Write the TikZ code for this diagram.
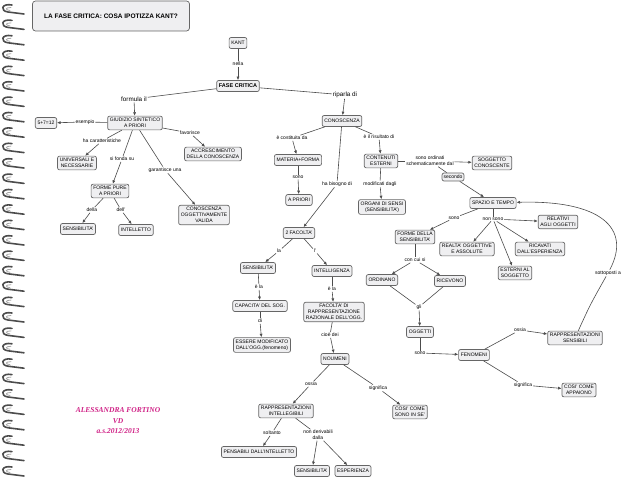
\documentclass[tikz,border=0pt]{standalone}
\usepackage{fontspec}
\setmainfont{Liberation Sans}
\newfontfamily\serifit{Liberation Serif}
\usetikzlibrary{arrows.meta}
\begin{document}
\begin{tikzpicture}[x=1pt,y=-1pt,
 box/.style={draw=black!60,line width=0.7pt,rounded corners=2pt,fill=blue!6!gray!12,align=center,font=\fontsize{5}{5.8}\selectfont,inner sep=2.2pt,minimum height=11pt},
 lab/.style={font=\fontsize{5}{5.8}\selectfont,inner sep=0.8pt,align=center,fill=white},
 big/.style={font=\fontsize{6.3}{7}\selectfont,inner sep=0.8pt,fill=white},
 ln/.style={draw=black!70,line width=0.6pt},
 ar/.style={draw=black!70,line width=0.6pt,-{Latex[length=3.5pt,width=3pt]}}]
\useasboundingbox (0,0) rectangle (638,478);
\fill[white] (0,0) rectangle (638,478);
% spiral binding
\foreach \k in {0,...,30}{
 \pgfmathsetmacro\yy{5+\k*15.4}
 \draw[black!70,line width=1.6pt,line cap=round] (12,\yy) .. controls (1,\yy-2) and (0,\yy+6) .. (8,\yy+7) -- (24,\yy+9);
 \draw[black!35,line width=0.8pt,line cap=round] (11,\yy+2.5) .. controls (5,\yy+2.5) and (5,\yy+5) .. (10,\yy+5.5);
}
% title
\node[box,font=\bfseries\fontsize{6.5}{7}\selectfont,minimum width=157pt,minimum height=30pt,rounded corners=3pt] (title) at (111,16) {LA FASE CRITICA: COSA IPOTIZZA KANT?};
\node[box] (kant) at (238,43) {KANT};
\node[lab] (lnella) at (238,64) {nella};
\node[box,font=\bfseries\fontsize{5.5}{6}\selectfont] (fase) at (238,86) {FASE CRITICA};
\node[big] (lformula) at (134,99) {formula il};
\node[big] (lriparla) at (345,95) {riparla di};
\node[box] (giud) at (135,123) {GIUDIZIO SINTETICO\\A PRIORI};
\node[box] (ese) at (46,123) {5+7=12};
\node[lab] (lesempio) at (85,122) {esempio};
\node[lab] (lcar) at (102,141) {ha caratteristiche};
\node[box] (univ) at (77,163) {UNIVERSALI E\\NECESSARIE};
\node[lab] (lfonda) at (122,159) {si fonda su};
\node[lab] (lfav) at (190,133) {favorisce};
\node[box] (accr) at (213,154) {ACCRESCIMENTO\\DELLA CONOSCENZA};
\node[lab] (lgar) at (165,170) {garantisce una};
\node[box] (forme) at (110,191) {FORME PURE\\A PRIORI};
\node[lab] (ldella) at (92,210) {della};
\node[lab] (ldell) at (121,210) {dell'};
\node[box] (sens1) at (78,229) {SENSIBILITA'};
\node[box] (intel1) at (136,230) {INTELLETTO};
\node[box] (cov) at (204,215) {CONOSCENZA\\OGGETTIVAMENTE\\VALIDA};
% right
\node[box] (con) at (342,121) {CONOSCENZA};
\node[lab] (lcost) at (292,138) {è costituita da};
\node[box] (mat) at (298,160) {MATERIA+FORMA};
\node[lab] (lsono1) at (298,177) {sono};
\node[box] (apr) at (299,200) {A PRIORI};
\node[lab] (lbis) at (337,184) {ha bisogno di};
\node[lab] (lris) at (379,137) {è il risultato di};
\node[box] (cont) at (381,161) {CONTENUTI\\ESTERNI};
\node[lab] (lmod) at (380,184) {modificati dagli};
\node[box] (org) at (382,207) {ORGANI DI SENSI\\(SENSIBILITA')};
\node[lab] (lord) at (430,161) {sono ordinati\\schematicamente dal};
\node[box] (sogg) at (492,163) {SOGGETTO\\CONOSCENTE};
\node[box,minimum height=8pt,inner sep=1.5pt] (lsec) at (453,177) {secondo};
\node[box] (spt) at (493,203) {SPAZIO E TEMPO};
\node[lab] (lsono2) at (454,218) {sono};
\node[lab] (lnon) at (493,219) {non sono};
\node[box] (rel) at (558,222) {RELATIVI\\AGLI OGGETTI};
\node[box] (fds) at (415,237) {FORME DELLA\\SENSIBILITA'};
\node[box] (real) at (467,249) {REALTA' OGGETTIVE\\E ASSOLUTE};
\node[box] (ric) at (540,249) {RICAVATI\\DALL'ESPERIENZA};
\node[box] (est) at (515,273) {ESTERNI AL\\SOGGETTO};
\node[lab] (lcon) at (415,260) {con cui si};
\node[box] (ordi) at (382,280) {ORDINANO};
\node[box] (rice) at (450,281) {RICEVONO};
\node[lab] (lsott) at (608,273) {sottoposti a};
\node[lab] (lgli) at (419,307) {gli};
\node[box] (ogg) at (420,332) {OGGETTI};
\node[lab] (lsono3) at (420,353) {sono};
\node[box] (fen) at (474,355) {FENOMENI};
\node[lab] (lossia2) at (520,330) {ossia};
\node[box] (rsens) at (575,338) {RAPPRESENTAZIONI\\SENSIBILI};
\node[lab] (lsig2) at (523,385) {significa};
\node[box] (app) at (579,390) {COSI' COME\\APPAIONO};
% middle
\node[box] (fac2) at (299,233) {2 FACOLTA'};
\node[lab] (lla) at (279,251) {la};
\node[lab] (ll) at (315,251) {l'};
\node[box] (sens2) at (258,268) {SENSIBILITA'};
\node[box] (intg) at (332,271) {INTELLIGENZA};
\node[lab] (lela1) at (259,287) {è la};
\node[lab] (lela2) at (332,289) {è la};
\node[box] (cap) at (260,306) {CAPACITA' DEL SOG.};
\node[box] (facr) at (334,312) {FACOLTA' DI\\RAPPRESENTAZIONE\\RAZIONALE DELL'OGG.};
\node[lab] (ldi) at (260,321) {di};
\node[box] (ess) at (262,345) {ESSERE MODIFICATO\\DALL'OGG.(fenomeno)};
\node[lab] (lcioe) at (330,335) {cioè dei};
\node[box] (nou) at (335,359) {NOUMENI};
\node[lab] (lossia1) at (311,384) {ossia};
\node[lab] (lsig1) at (378,388) {significa};
\node[box] (rint) at (286,411) {RAPPRESENTAZIONI\\INTELLEGIBILI};
\node[box] (cosi) at (410,412) {COSI' COME\\SONO IN SE'};
\node[lab] (lsolt) at (272,433) {soltanto};
\node[lab] (lnond) at (318,435) {non derivabili\\dalla};
\node[box] (pens) at (259,452) {PENSABILI DALL'INTELLETTO};
\node[box] (sens3) at (312,471) {SENSIBILITA'};
\node[box] (esp) at (353,471) {ESPERIENZA};
% author
\node[align=center,text=magenta!85!black,font=\serifit\itshape\bfseries\fontsize{7.5}{10.5}\selectfont] (auth) at (118,421) {ALESSANDRA FORTINO\\VD\\a.s.2012/2013};
% connectors
\draw[ln] (kant) -- (lnella); \draw[ar] (lnella) -- (fase);
\draw[ln] (fase) -- (lformula); \draw[ar] (lformula) -- (giud);
\draw[ln] (fase) -- (lriparla); \draw[ar] (lriparla) -- (con);
\draw[ln] (giud) -- (lesempio); \draw[ar] (lesempio) -- (ese);
\draw[ln] (giud) -- (lcar); \draw[ar] (lcar) -- (univ);
\draw[ln] (giud) -- (lfonda); \draw[ar] (lfonda) -- (forme);
\draw[ln] (giud) -- (lfav); \draw[ar] (lfav) -- (accr);
\draw[ln] (giud) -- (lgar); \draw[ar] (lgar) -- (cov);
\draw[ln] (forme) -- (ldella); \draw[ar] (ldella) -- (sens1);
\draw[ln] (forme) -- (ldell); \draw[ar] (ldell) -- (intel1);
\draw[ln] (con) -- (lcost); \draw[ar] (lcost) -- (mat);
\draw[ln] (mat) -- (lsono1); \draw[ar] (lsono1) -- (apr);
\draw[ln] (con) -- (lbis); \draw[ar] (lbis) -- (fac2);
\draw[ln] (con) -- (lris); \draw[ar] (lris) -- (cont);
\draw[ln] (cont) -- (lmod); \draw[ar] (lmod) -- (org);
\draw[ln] (cont) -- (lord); \draw[ar] (lord) -- (sogg);
\draw[ln] (lord) -- (lsec); \draw[ar] (lsec) -- (spt);
\draw[ln] (spt) -- (lsono2); \draw[ar] (lsono2) -- (fds);
\draw[ln] (spt) -- (lnon);
\draw[ar] (lnon) -- (rel); \draw[ar] (lnon) -- (real); \draw[ar] (lnon) -- (ric); \draw[ar] (lnon) -- (est);
\draw[ln] (fds) -- (lcon); \draw[ar] (lcon) -- (ordi); \draw[ar] (lcon) -- (rice);
\draw[ln] (ordi) -- (lgli); \draw[ln] (rice) -- (lgli); \draw[ar] (lgli) -- (ogg);
\draw[ln] (ogg) -- (lsono3); \draw[ar] (lsono3) -- (fen);
\draw[ln] (fen) -- (lossia2); \draw[ar] (lossia2) -- (rsens);
\draw[ln] (fen) -- (lsig2); \draw[ar] (lsig2) -- (app);
\draw[ln] (rsens) .. controls (590,305) .. (lsott);
\draw[ar] (lsott) .. controls (632,228) and (600,200) .. (spt);
\draw[ln] (fac2) -- (lla); \draw[ar] (lla) -- (sens2);
\draw[ln] (fac2) -- (ll); \draw[ar] (ll) -- (intg);
\draw[ln] (sens2) -- (lela1); \draw[ar] (lela1) -- (cap);
\draw[ln] (intg) -- (lela2); \draw[ar] (lela2) -- (facr);
\draw[ln] (cap) -- (ldi); \draw[ar] (ldi) -- (ess);
\draw[ln] (facr) -- (lcioe); \draw[ar] (lcioe) -- (nou);
\draw[ln] (nou) -- (lossia1); \draw[ar] (lossia1) -- (rint);
\draw[ln] (nou) -- (lsig1); \draw[ar] (lsig1) -- (cosi);
\draw[ln] (rint) -- (lsolt); \draw[ar] (lsolt) -- (pens);
\draw[ln] (rint) -- (lnond); \draw[ar] (lnond) -- (sens3); \draw[ar] (lnond) -- (esp);
\end{tikzpicture}
\end{document}
